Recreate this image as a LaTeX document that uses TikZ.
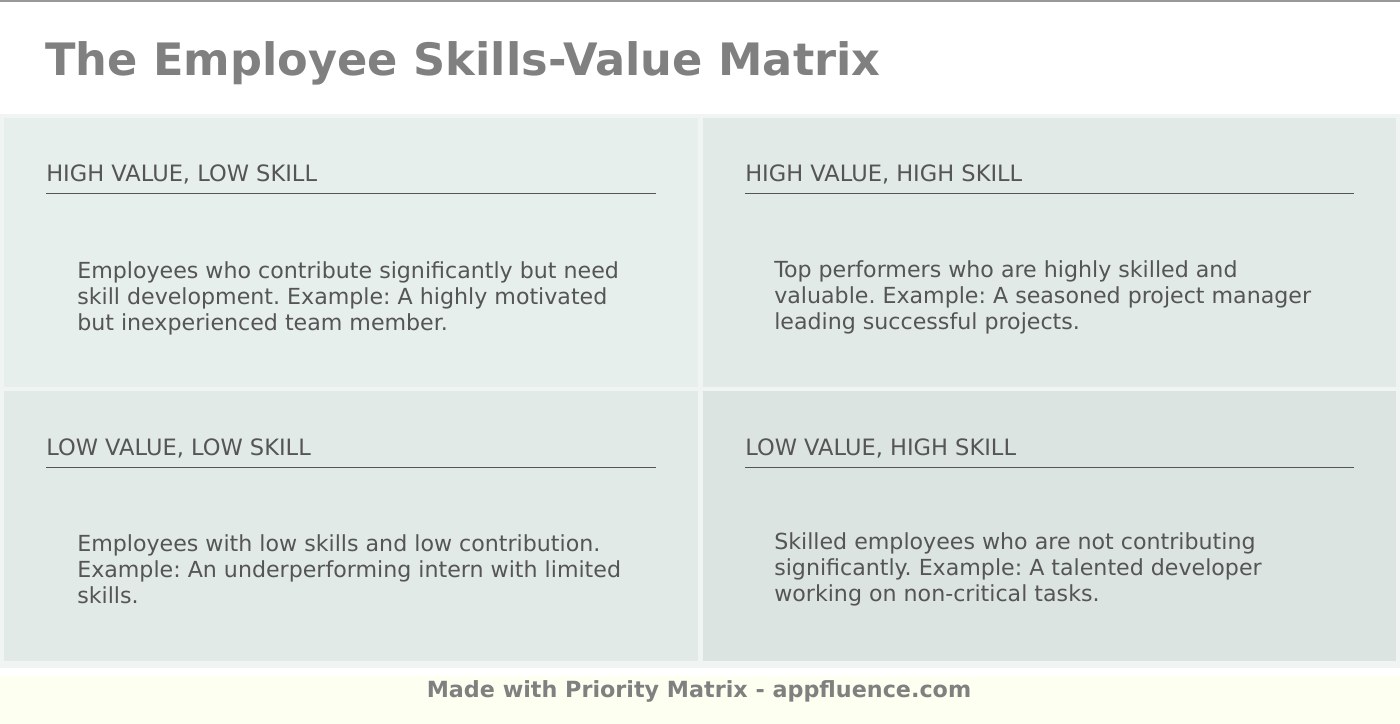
\documentclass[tikz,border=0pt]{standalone}
\usepackage{fontspec}
\setmainfont{DejaVu Sans}
\definecolor{titlec}{HTML}{808080}
\definecolor{txt}{HTML}{555555}
\definecolor{gridbg}{HTML}{F0F4F2}
\definecolor{qa}{HTML}{E6EFEB}
\definecolor{qb}{HTML}{E1EAE7}
\definecolor{qc}{HTML}{E1EAE7}
\definecolor{qd}{HTML}{DCE4E1}
\definecolor{footbg}{HTML}{FDFFF0}
\definecolor{topline}{HTML}{999999}
\begin{document}
\frenchspacing
\begin{tikzpicture}[x=0.75pt,y=-0.75pt,
  title/.style={anchor=base west,inner sep=0,text=titlec,font=\fontsize{33.5}{40}\selectfont\bfseries},
  heading/.style={anchor=base west,inner sep=0,text=txt,font=\fontsize{16.9}{19}\selectfont},
  body/.style={anchor=north west,inner sep=0,text=txt,align=left,font=\fontsize{16.6}{19.5}\selectfont\frenchspacing},
  rulel/.style={draw=txt,line width=0.75pt},
  foot/.style={anchor=base,inner sep=0,text=titlec,font=\fontsize{16.7}{19}\selectfont\bfseries}]
\useasboundingbox (0,0) rectangle (1400,724);
\fill[white] (0,0) rectangle (1400,724);
\fill[topline] (0,0) rectangle (1400,2);
\node[title] (t) at (45,75) {The Employee Skills-Value Matrix};
\fill[gridbg] (0,114) rectangle (1400,668);
\fill[qa] (4,118) rectangle (698,387);
\fill[qb] (703,118) rectangle (1396,387);
\fill[qc] (4,391) rectangle (698,661);
\fill[qd] (703,391) rectangle (1396,661);
\fill[footbg] (0,676) rectangle (1400,724);
% top-left
\node[heading] (h1) at (46,181) {HIGH VALUE, LOW SKILL};
\coordinate (r1a) at (46,193); \coordinate (r1b) at (656,193);
\draw[rulel] (r1a) -- (r1b);
\node[body] (b1) at (77,261) {Employees who contribute significantly but need\\skill development. Example: A highly motivated\\but inexperienced team member.};
% top-right
\node[heading] (h2) at (745,181) {HIGH VALUE, HIGH SKILL};
\coordinate (r2a) at (745,193); \coordinate (r2b) at (1354,193);
\draw[rulel] (r2a) -- (r2b);
\node[body] (b2) at (774,260) {Top performers who are highly skilled and\\valuable. Example: A seasoned project manager\\leading successful projects.};
% bottom-left
\node[heading] (h3) at (46,455) {LOW VALUE, LOW SKILL};
\coordinate (r3a) at (46,467); \coordinate (r3b) at (656,467);
\draw[rulel] (r3a) -- (r3b);
\node[body] (b3) at (77,534) {Employees with low skills and low contribution.\\Example: An underperforming intern with limited\\skills.};
% bottom-right
\node[heading] (h4) at (745,455) {LOW VALUE, HIGH SKILL};
\coordinate (r4a) at (745,467); \coordinate (r4b) at (1354,467);
\draw[rulel] (r4a) -- (r4b);
\node[body] (b4) at (774,532) {Skilled employees who are not contributing\\significantly. Example: A talented developer\\working on non-critical tasks.};
\node[foot] (f) at (699,697) {Made with Priority Matrix - appfluence.com};
\end{tikzpicture}
\end{document}
